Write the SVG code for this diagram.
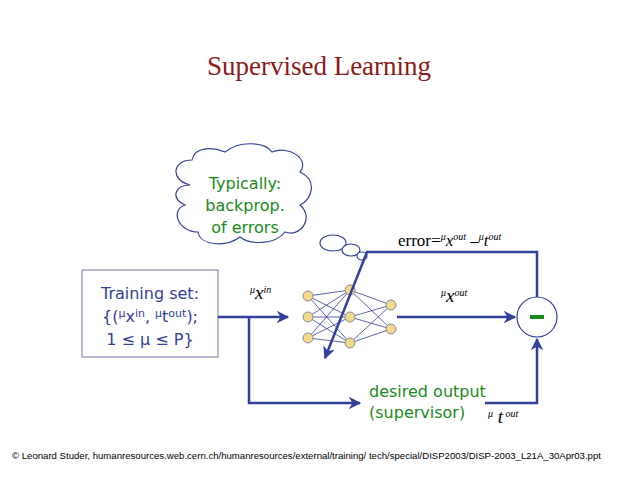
<svg xmlns="http://www.w3.org/2000/svg" width="638" height="493" viewBox="0 0 638 493">
<style>
.ln{stroke:#33409a;stroke-width:2.5;fill:none}
.nn{fill:#f5d98a;stroke:#8a8a9a;stroke-width:1}
.w{stroke:#33409a;stroke-width:0.8}
.g{font-family:"DejaVu Sans",sans-serif;fill:#1a8a1a;font-size:16px}
.b{font-family:"DejaVu Sans",sans-serif;fill:#33409a;font-size:16px}
.m{font-family:"Liberation Serif",serif;font-style:italic;fill:#000}
.r{font-family:"Liberation Serif",serif;fill:#000}
</style>
<defs><marker id="a" viewBox="0 0 10 10" refX="9" refY="5" markerWidth="5" markerHeight="5" orient="auto"><path d="M0,0 L10,5 L0,10 L3,5z" fill="#33409a"/></marker></defs>
<rect width="638" height="493" fill="#fff"/>
<text x="319" y="75" text-anchor="middle" font-family="'Liberation Serif',serif" font-size="27" fill="#8b1a1a">Supervised Learning</text>
<g id="cloud">
<path d="M190,185 C170,180 172,160 192,160 C195,145 215,148 225,152 C240,140 265,142 272,152 C290,145 310,160 300,172 C318,180 312,200 300,205 C315,218 300,238 285,232 C275,245 250,245 240,237 C225,248 200,245 198,232 C178,232 170,210 185,205 C170,198 175,185 190,185Z" fill="#fff" stroke="#33409a" stroke-width="1.2"/>
<ellipse cx="333" cy="243" rx="13" ry="8" fill="#fff" stroke="#33409a" stroke-width="1.2"/>
<ellipse cx="351" cy="250" rx="9" ry="6" fill="#fff" stroke="#33409a" stroke-width="1.2"/>
<ellipse cx="362" cy="256" rx="5" ry="4" fill="#fff" stroke="#33409a" stroke-width="1.2"/>
<text class="g" text-anchor="middle"><tspan x="245" y="189">Typically:</tspan><tspan x="245" y="211">backprop.</tspan><tspan x="245" y="233">of errors</tspan></text>
</g>
<g id="training">
<rect x="82" y="270" width="136" height="87" fill="#fff" stroke="#8a8fb8" stroke-width="1.2"/>
<text class="b" text-anchor="middle"><tspan x="150" y="299">Training set:</tspan><tspan x="150" y="322">{(<tspan font-size="11" dy="-5">μ</tspan><tspan dy="5">x</tspan><tspan font-size="11" dy="-5">in</tspan><tspan dy="5">, </tspan><tspan font-size="11" dy="-5">μ</tspan><tspan dy="5">t</tspan><tspan font-size="11" dy="-5">out</tspan><tspan dy="5">);</tspan></tspan><tspan x="150" y="345">1 ≤ μ ≤ P}</tspan></text>
</g>
<g id="net">
<g class="w">
<path d="M308,296L350,290M308,296L350,317M308,296L350,343M308,317L350,290M308,317L350,317M308,317L350,343M308,338L350,290M308,338L350,317M308,338L350,343M350,290L391,305M350,290L391,329M350,317L391,305M350,317L391,329M350,343L391,305M350,343L391,329"/>
</g>
<circle class="nn" cx="308" cy="296" r="5"/><circle class="nn" cx="308" cy="317" r="5"/><circle class="nn" cx="308" cy="338" r="5"/>
<circle class="nn" cx="350" cy="290" r="5"/><circle class="nn" cx="350" cy="317" r="5"/><circle class="nn" cx="350" cy="343" r="5"/>
<circle class="nn" cx="391" cy="305" r="5"/><circle class="nn" cx="391" cy="329" r="5"/>
</g>
<g id="minus">
<circle cx="537" cy="317" r="20" fill="#fff" stroke="#33409a" stroke-width="1.2"/>
<rect x="530" y="315" width="14" height="4" fill="#1a8a1a"/>
</g>
<g id="desired"><text class="g" font-size="15"><tspan x="369" y="397">desired output</tspan><tspan x="369" y="418">(supervisor)</tspan></text></g>
<g id="connectors">
<path class="ln" d="M218,317H288" marker-end="url(#a)"/>
<path class="ln" d="M249,317V403H360" marker-end="url(#a)"/>
<path class="ln" d="M397,317H515" marker-end="url(#a)"/>
<path class="ln" d="M485,403H537V339" marker-end="url(#a)"/>
<path class="ln" d="M537,297V252H367L325,358" marker-end="url(#a)"/>
</g>
<g id="labels">
<text class="r" x="398" y="246" font-size="17">error=<tspan class="m" font-size="10" dy="-6">μ</tspan><tspan class="m" dy="6">x</tspan><tspan class="m" font-size="10" dy="-6">out</tspan><tspan dy="6"> –</tspan><tspan class="m" font-size="10" dy="-6">μ</tspan><tspan class="m" dy="6">t</tspan><tspan class="m" font-size="10" dy="-6">out</tspan></text>
<text class="m" x="250" y="299" font-size="19"><tspan font-size="10" dy="-6">μ</tspan><tspan dy="6">x</tspan><tspan font-size="10" dy="-6">in</tspan></text>
<text class="m" x="441" y="302" font-size="19"><tspan font-size="10" dy="-6">μ</tspan><tspan dy="6">x</tspan><tspan font-size="10" dy="-6">out</tspan></text>
<text class="m" x="488" y="423" font-size="19"><tspan font-size="10" dy="-6">μ</tspan><tspan dy="6"> t</tspan><tspan font-size="10" dy="-6"> out</tspan></text>
</g>
<text x="12" y="459" font-family="'Liberation Sans',sans-serif" font-size="9.6" fill="#000">© Leonard Studer, humanresources.web.cern.ch/humanresources/external/training/ tech/special/DISP2003/DISP-2003_L21A_30Apr03.ppt</text>
</svg>
